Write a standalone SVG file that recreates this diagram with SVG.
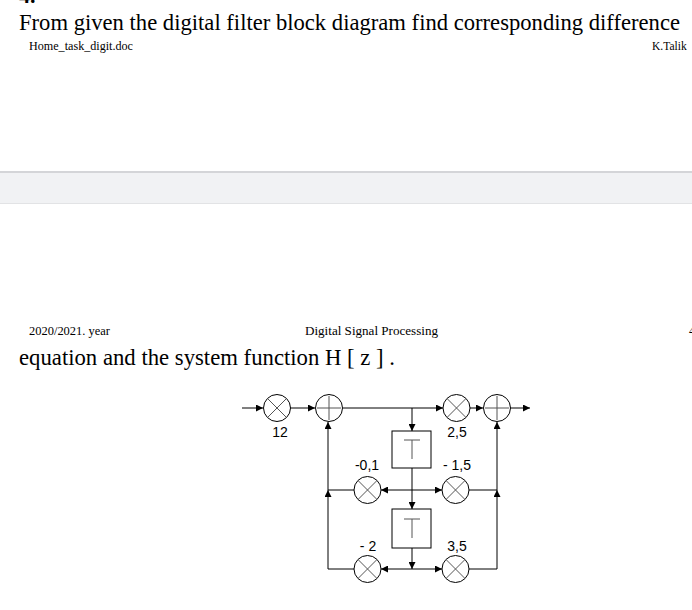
<svg xmlns="http://www.w3.org/2000/svg" width="692" height="610" viewBox="0 0 692 610">
<defs>
<marker id="ah" viewBox="0 0 10 10" refX="10" refY="5" markerWidth="7" markerHeight="7" markerUnits="userSpaceOnUse" orient="auto"><path d="M0,0 L10,5 L0,10 z" fill="#000"/></marker>
<style>
.t{font-family:"Liberation Serif",serif;fill:#000}
.s{font-family:"Liberation Sans",Arial,sans-serif;font-size:14px;fill:#000;text-anchor:middle}
.n{fill:#fff;stroke:#000;stroke-width:1}
.g{stroke:#555;stroke-width:1;fill:none}
.c{stroke:#000;stroke-width:1;fill:none}
.a{stroke:#000;stroke-width:1;fill:none;marker-end:url(#ah)}
</style>
</defs>
<rect width="692" height="610" fill="#fff"/>
<text class="t" x="19" y="3" font-size="22" font-weight="bold">4.</text>
<text class="t" x="19" y="30" font-size="22.5" textLength="661" lengthAdjust="spacingAndGlyphs">From given the digital filter block diagram find corresponding difference</text>
<text class="t" x="29" y="50" font-size="11.5" textLength="104" lengthAdjust="spacingAndGlyphs">Home_task_digit.doc</text>
<text class="t" x="652" y="50" font-size="11.5">K.Talik</text>
<rect x="0" y="171" width="692" height="33" fill="#f1f2f4"/>
<rect x="0" y="171" width="692" height="2" fill="#d4d5d8"/>
<rect x="0" y="203" width="692" height="1" fill="#e2e3e5"/>
<text class="t" x="29" y="335" font-size="11.5" textLength="81" lengthAdjust="spacingAndGlyphs">2020/2021. year</text>
<text class="t" x="305" y="335" font-size="11.5" textLength="133" lengthAdjust="spacingAndGlyphs">Digital Signal Processing</text>
<text class="t" x="689" y="335" font-size="11.5">4</text>
<text class="t" x="19" y="365" font-size="22.5" textLength="376" lengthAdjust="spacingAndGlyphs">equation and the system function H [ z ] .</text>

<g id="connectors">
<line class="a" x1="242" y1="408" x2="263" y2="408"/>
<line class="a" x1="290" y1="408" x2="315" y2="408"/>
<line class="a" x1="343" y1="408" x2="443" y2="408"/>
<line class="a" x1="470" y1="408" x2="483" y2="408"/>
<line class="a" x1="510" y1="408" x2="530" y2="408"/>
<line class="a" x1="412" y1="408" x2="412" y2="431"/>
<line class="a" x1="412" y1="468" x2="412" y2="509"/>
<line class="a" x1="412" y1="490" x2="381" y2="490"/>
<line class="a" x1="412" y1="490" x2="442" y2="490"/>
<line class="a" x1="412" y1="548" x2="412" y2="569"/>
<line class="a" x1="412" y1="569" x2="381" y2="569"/>
<line class="a" x1="412" y1="569" x2="442" y2="569"/>
<polyline class="a" points="354,569 328,569 328,490"/>
<polyline class="a" points="354,490 328,490 328,422"/>
<polyline class="a" points="469,569 497,569 497,490"/>
<polyline class="a" points="469,490 497,490 497,422"/>
</g>

<g id="m12"><circle class="n" cx="277" cy="408" r="13.5"/><path class="g" d="M268,399 L286,417 M286,399 L268,417"/><text class="s" x="280" y="437">12</text></g>
<g id="add1"><circle class="n" cx="329" cy="408" r="13.5"/><path class="g" d="M329,396 V420 M317,408 H341"/></g>
<g id="m25"><circle class="n" cx="456.5" cy="408" r="13.5"/><path class="g" d="M447.5,399 L465.5,417 M465.5,399 L447.5,417"/><text class="s" x="457" y="437">2,5</text></g>
<g id="add2"><circle class="n" cx="497" cy="408" r="13.5"/><path class="g" d="M497,396 V420 M485,408 H509"/></g>
<g id="T1"><rect class="n" x="392" y="431" width="39" height="37"/><path class="g" d="M404,440 H420 M412,440 V459"/></g>
<g id="T2"><rect class="n" x="392" y="509" width="39" height="39"/><path class="g" d="M404,519 H420 M412,519 V538"/></g>
<g id="m01"><circle class="n" cx="367.5" cy="490" r="13.5"/><path class="g" d="M358.5,481 L376.5,499 M376.5,481 L358.5,499"/><text class="s" x="367" y="470">-0,1</text></g>
<g id="m15"><circle class="n" cx="455.5" cy="490" r="13.5"/><path class="g" d="M446.5,481 L464.5,499 M464.5,481 L446.5,499"/><text class="s" x="457" y="470">- 1,5</text></g>
<g id="m2"><circle class="n" cx="367.5" cy="569" r="13.5"/><path class="g" d="M358.5,560 L376.5,578 M376.5,560 L358.5,578"/><text class="s" x="368" y="551">- 2</text></g>
<g id="m35"><circle class="n" cx="455.5" cy="569" r="13.5"/><path class="g" d="M446.5,560 L464.5,578 M464.5,560 L446.5,578"/><text class="s" x="457" y="551">3,5</text></g>
</svg>
